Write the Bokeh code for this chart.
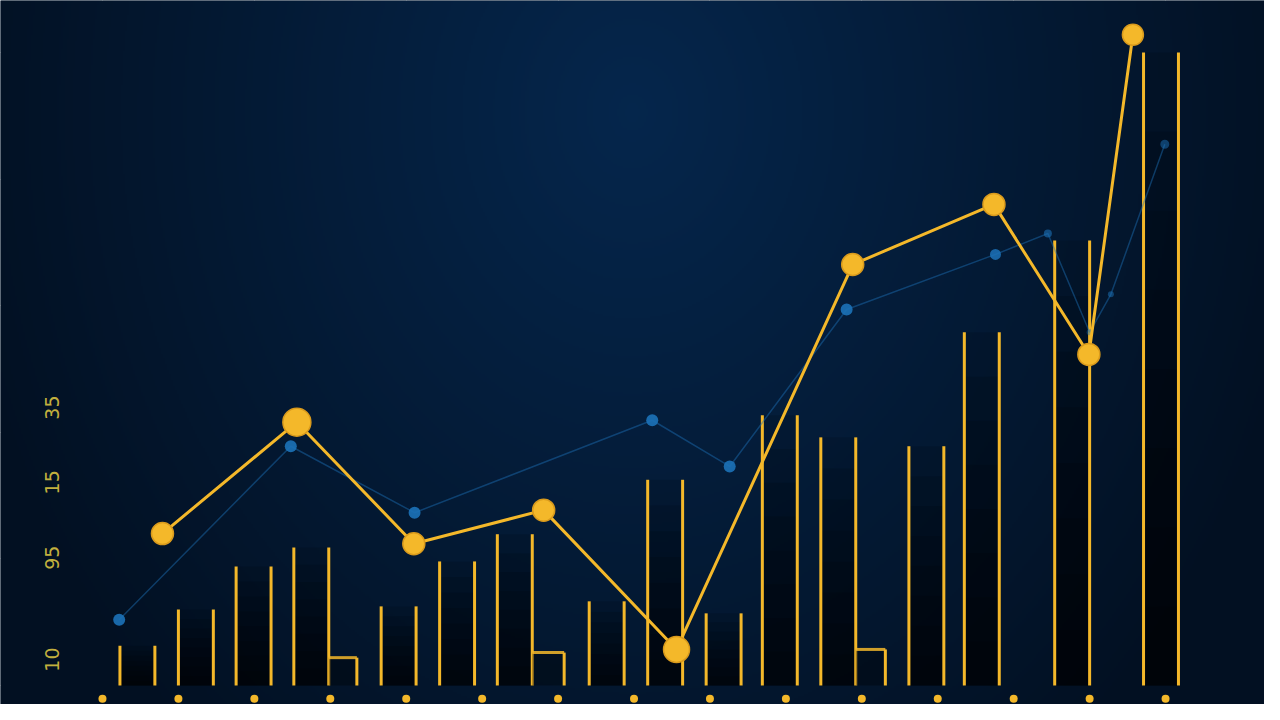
import numpy as np
from bokeh.plotting import figure
from bokeh.models import Range1d, ColumnDataSource
from bokeh.core.properties import value
from bokeh.embed import file_html
from bokeh.resources import INLINE

# ---------------- data ----------------
bar_x = [0.46, 1.23, 1.99, 2.75, 3.90, 4.67, 5.43, 6.64, 7.41, 8.18, 8.92, 9.69, 10.85, 11.58, 12.77, 13.94]
bar_h = [6.3, 12.0, 18.8, 21.8, 12.5, 19.6, 23.9, 13.3, 32.5, 11.4, 42.7, 39.2, 37.8, 55.8, 70.3, 100.0]

step_x0 = [2.98, 5.66, 9.92]
step_x1 = [3.35, 6.08, 10.31]
step_h = [4.4, 5.2, 5.7]

gold_x = [0.79, 2.56, 4.10, 5.81, 7.56, 9.88, 11.74, 12.99, 13.57]
gold_y = [24.0, 41.6, 22.4, 27.7, 5.7, 66.5, 76.0, 52.3, 102.8]

blue_x = [0.22, 2.48, 4.11, 7.24, 8.26, 9.80, 11.76, 12.45, 13.00, 13.28, 13.99]
blue_y = [10.4, 37.8, 27.3, 41.9, 34.6, 59.4, 68.1, 71.4, 55.8, 61.8, 85.5]

period_x = [0, 1, 2, 3, 4, 5, 6, 7, 8, 9, 10, 11, 12, 13, 14]

y_tick_values = [43.9, 32.1, 20.2, 4.1]
y_tick_labels = ["35", "15", "95", "10"]

# ---------------- styles ----------------
GOLD = "#f4b82a"
BLUE = "#1c72b8"
gold_size = [22, 28, 22, 22, 26, 22, 22, 22, 21]
blue_size = [12, 12, 12, 12, 12, 12, 11, 8, 6, 6, 9]
blue_alpha = [0.9, 0.9, 0.9, 0.9, 0.9, 0.9, 0.85, 0.6, 0.4, 0.5, 0.5]

W, H = 1264, 704
X0, X1 = -1.343, 15.303
Y0, Y1 = -3.0, 108.21

p = figure(width=W, height=H, x_range=Range1d(X0, X1), y_range=Range1d(Y0, Y1),
           output_backend="svg", toolbar_location=None,
           x_axis_location=None, y_axis_location=None, min_border=0,
           outline_line_color=None, background_fill_color="#04182f",
           border_fill_color="#04182f")

# background radial gradient
nx, ny = 632, 352
px = 8 + (np.arange(nx) + 0.5) * (W / nx)
py = 712 - (np.arange(ny) + 0.5) * (H / ny)
PX, PY = np.meshgrid(px, py)
d = np.sqrt(((PX - 640) / 620.0) ** 2 + ((PY - 120) / 750.0) ** 2)
t = np.clip(d / 1.1, 0, 1)
c_center = np.array([5, 38, 76], dtype=float)
c_edge = np.array([2, 16, 34], dtype=float)
img = np.empty((ny, nx), dtype=np.uint32)
view = img.view(dtype=np.uint8).reshape((ny, nx, 4))
for k in range(3):
    view[:, :, k] = np.round(c_center[k] * (1 - t) + c_edge[k] * t).astype(np.uint8)
view[:, :, 3] = 255
p.image_rgba(image=[img], x=X0, y=Y0, dw=X1 - X0, dh=Y1 - Y0)

# bars: dark gradient body + gold side lines
BW = 0.46
bx = np.array(bar_x)
bh = np.array(bar_h)
layers = 8
for k in range(1, layers + 1):
    p.quad(left=bx - BW / 2, right=bx + BW / 2, bottom=0, top=bh * k / layers,
           fill_color="#000000", fill_alpha=0.12, line_color=None)

p.segment(x0=bx - BW / 2, y0=0, x1=bx - BW / 2, y1=bh, line_color=GOLD, line_width=3)
p.segment(x0=bx + BW / 2, y0=0, x1=bx + BW / 2, y1=bh, line_color=GOLD, line_width=3)

# small step bars
sx0 = np.array(step_x0); sx1 = np.array(step_x1); sh = np.array(step_h)
p.quad(left=sx0, right=sx1, bottom=0, top=sh, fill_color="#000000", fill_alpha=0.35, line_color=None)
p.segment(x0=sx0, y0=sh, x1=sx1, y1=sh, line_color=GOLD, line_width=3, line_alpha=0.85)
p.segment(x0=sx1, y0=0, x1=sx1, y1=sh, line_color=GOLD, line_width=3)

# blue series
p.line(blue_x, blue_y, line_color=BLUE, line_width=1.5, line_alpha=0.45)
p.scatter(x="x", y="y", size="s", fill_alpha="a",
          source=ColumnDataSource(dict(x=blue_x, y=blue_y, s=blue_size, a=blue_alpha)),
          fill_color=BLUE, line_color=None)

# gold series
p.line(gold_x, gold_y, line_color=GOLD, line_width=3)
p.scatter(x="x", y="y", size="s", source=ColumnDataSource(dict(x=gold_x, y=gold_y, s=gold_size)),
          fill_color=GOLD, line_color="#d99a1c", line_width=1.5)

# period dots along the bottom
p.scatter(period_x, [-2.1] * len(period_x), size=8, fill_color=GOLD, line_color=None)

# y tick labels (rotated)
p.text(x=[-0.659] * len(y_tick_values), y=y_tick_values, text=y_tick_labels,
       angle=np.pi / 2, text_align="center", text_baseline="middle",
       text_font=value("DejaVu Sans"), text_font_size="19px", text_color="#c2b03e")

open("out.html", "w").write(file_html(p, INLINE))
